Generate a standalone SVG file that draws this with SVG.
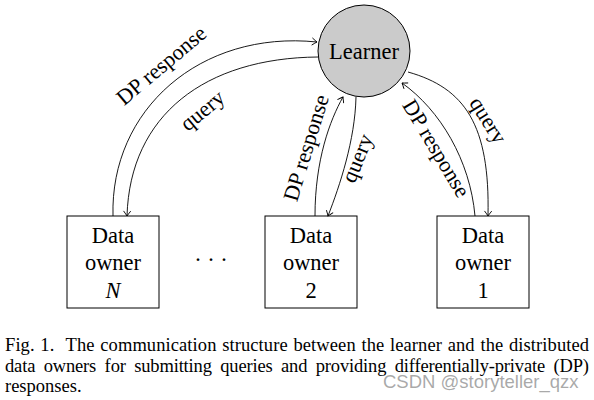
<svg xmlns="http://www.w3.org/2000/svg" width="594" height="400" viewBox="0 0 594 400">
<style>
.t{font-family:"Liberation Serif","Times New Roman",serif;fill:#000}
.n{font-size:22.5px;text-anchor:middle}
.lbl{font-size:22px;text-anchor:middle}
.cap{font-size:18.5px}
.box{fill:#fff;stroke:#000;stroke-width:1}
.c{fill:none;stroke:#000;stroke-width:0.9}
.wm{font-family:"Liberation Sans",Arial,sans-serif;font-size:18.5px;fill:#9a9a9a;fill-opacity:0.85}
</style>
<defs>
<marker id="ar" markerUnits="userSpaceOnUse" orient="auto" refX="0" refY="0" markerWidth="10" markerHeight="10" viewBox="-6 -5 7 10" overflow="visible">
<path d="M-5,-3.6 Q-1.6,-1 0,0 Q-1.6,1 -5,3.6" fill="none" stroke="#000" stroke-width="0.9"/>
</marker>
</defs>
<g id="learner">
<circle cx="364" cy="51" r="46" fill="#cbcbcb" stroke="#000" stroke-width="1"/>
<text class="t n" x="364" y="59">Learner</text>
</g>
<g id="ownerN">
<rect class="box" x="67" y="216" width="92" height="92"/>
<text class="t n" x="113" y="243">Data</text>
<text class="t n" x="113" y="270">owner</text>
<text class="t n" x="113" y="298" font-style="italic">N</text>
</g>
<g id="owner2">
<rect class="box" x="265" y="216" width="92" height="92"/>
<text class="t n" x="311" y="243">Data</text>
<text class="t n" x="311" y="270">owner</text>
<text class="t n" x="311" y="298">2</text>
</g>
<g id="owner1">
<rect class="box" x="437" y="216" width="92" height="92"/>
<text class="t n" x="483" y="243">Data</text>
<text class="t n" x="483" y="270">owner</text>
<text class="t n" x="483" y="298">1</text>
</g>
<g id="dots">
<text class="t n" x="211" y="267">· · ·</text>
</g>
<g id="connectors">
<path class="c" d="M113,216 C110,110 200,30 317,42" marker-end="url(#ar)"/>
<path class="c" d="M318,57 C205,58 130,115 127,216" marker-end="url(#ar)"/>
<path class="c" d="M315,216 C315,160 330,120 343,97" marker-end="url(#ar)"/>
<path class="c" d="M356,97 C355,140 340,185 328,216" marker-end="url(#ar)"/>
<path class="c" d="M475,216 C470,160 440,110 402,83" marker-end="url(#ar)"/>
<path class="c" d="M408,72 C465,88 490,125 488,216" marker-end="url(#ar)"/>
</g>
<g id="labels">
<text class="t lbl" transform="translate(166,71) rotate(-40)">DP response</text>
<text class="t lbl" transform="translate(207,116) rotate(-40)">query</text>
<text class="t lbl" transform="translate(313,150) rotate(-73)">DP response</text>
<text class="t lbl" transform="translate(364,161) rotate(-68)">query</text>
<text class="t lbl" transform="translate(430,152) rotate(59)">DP response</text>
<text class="t lbl" transform="translate(482,124) rotate(58)">query</text>
</g>
<g id="caption">
<text class="t cap" x="5" y="351" xml:space="preserve" word-spacing="1" textLength="584" lengthAdjust="spacing">Fig. 1.  The communication structure between the learner and the distributed</text>
<text class="t cap" x="5" y="371.5" word-spacing="4" textLength="584" lengthAdjust="spacing">data owners for submitting queries and providing differentially-private (DP)</text>
<text class="t cap" x="5" y="392">responses.</text>
</g>
<text class="wm" x="383" y="388">CSDN @storyteller_qzx</text>
</svg>
